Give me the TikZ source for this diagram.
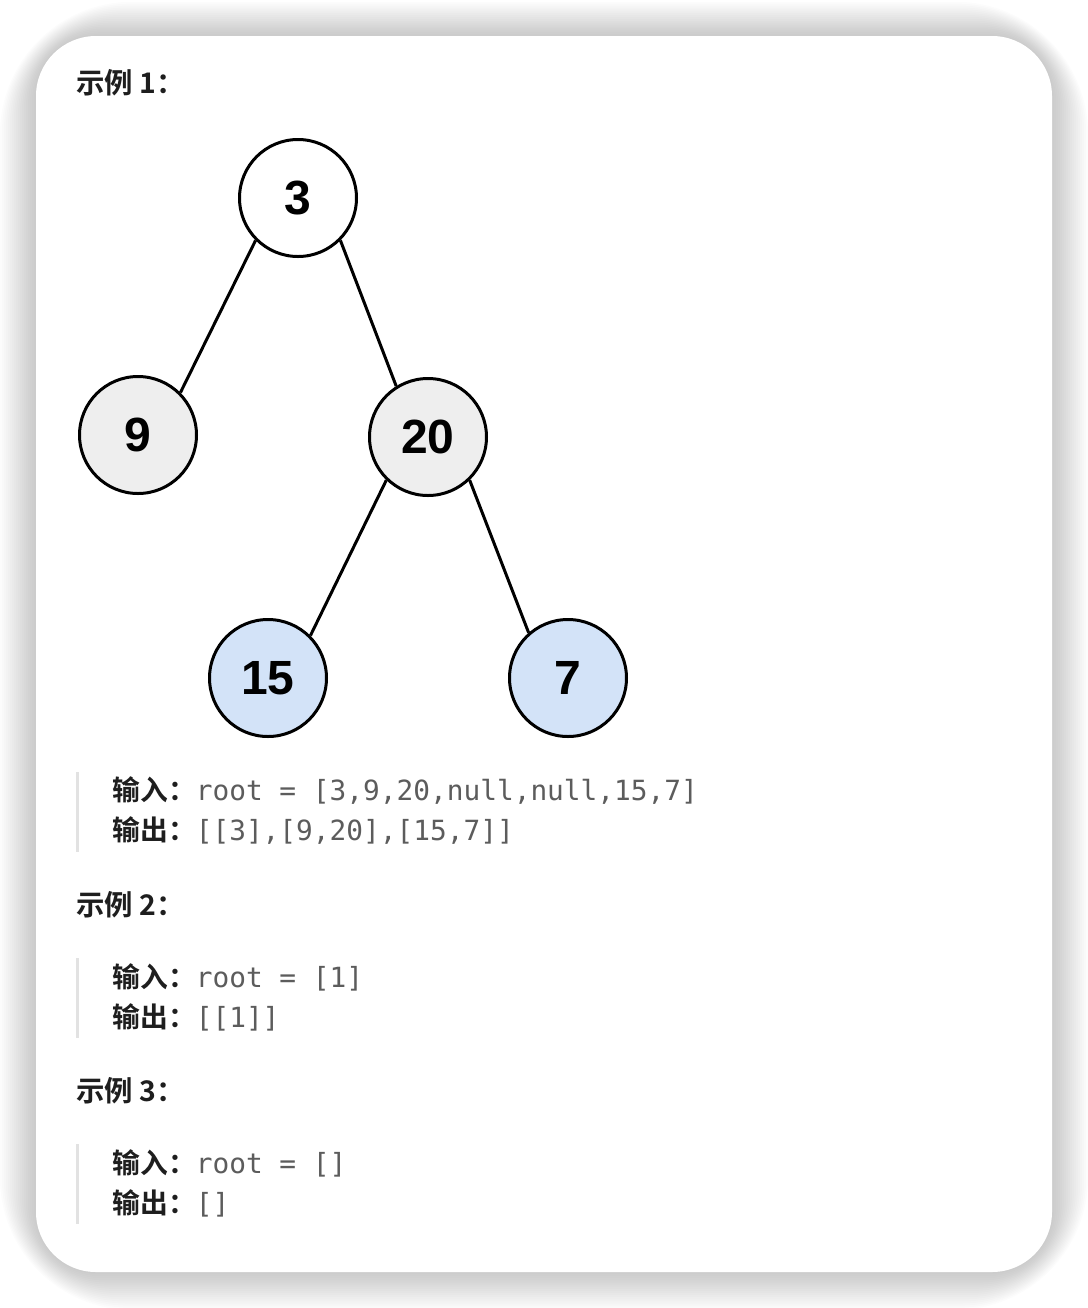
\documentclass[tikz,border=0pt]{standalone}
\usepackage{fontspec}
\usepackage{xcolor}
\usepackage{tikz}
\usetikzlibrary{positioning}
\newfontfamily\cjk{Noto Sans CJK SC}[BoldFont={Noto Sans CJK SC Bold}]
\newfontfamily\codefont{DejaVu Sans Mono}
\newfontfamily\digitfont{Liberation Sans}
\definecolor{cardgray}{HTML}{EEEEEE}
\definecolor{leafblue}{HTML}{D3E3F8}
\definecolor{codegray}{HTML}{5C5C5C}
\definecolor{quotebar}{HTML}{E2E2E2}
\definecolor{titleblack}{HTML}{1E1E1E}

\begin{document}
\begin{tikzpicture}[
  x=0.5pt,y=-0.5pt,
  treenode/.style={circle,draw=black,line width=1.5pt,minimum size=58.5pt,inner sep=0pt,
                   font=\digitfont\bfseries\fontsize{24}{24}\selectfont},
  inner/.style={treenode,fill=cardgray},
  leaf/.style={treenode,fill=leafblue},
  edge/.style={line width=1.5pt},
  title/.style={anchor=west,inner sep=0pt,text=titleblack,font=\cjk\bfseries\fontsize{14.2}{16}\selectfont},
  codeline/.style={anchor=west,inner sep=0pt,text=codegray,font=\codefont\fontsize{13.9}{16}\selectfont},
  bar/.style={fill=quotebar,draw=none}
]
  \useasboundingbox (0,0) rectangle (1088,1308);
  % shadow of the card
  \foreach \i in {1,...,18}
    \fill[black,opacity=0.011,rounded corners=30+\i*2]
      (36-\i*2,36-\i*1.9) rectangle (1052+\i*2,1272+\i*2.1);
  \fill[white,rounded corners=30] (36,36) rectangle (1052,1272);

  % example 1
  \node[title] (ex1) at (76,83) {示例 1：};
  \node[treenode,fill=white] (n3) at (298,198) {3};
  \node[inner] (n9) at (138,435) {9};
  \node[inner] (n20) at (428,437) {20};
  \node[leaf] (n15) at (268,678) {15};
  \node[leaf] (n7) at (568,678) {7};
  \draw[edge] (n3.-135) -- (n9.45);
  \draw[edge] (n3.-45) -- (n20.122);
  \draw[edge] (n20.-134) -- (n15.45);
  \draw[edge] (n20.-46) -- (n7.131);

  \fill[bar] (76,772) rectangle (79,852);
  \node[codeline] (in1) at (112,791) {{\cjk\bfseries\color{titleblack}输入：}root = [3,9,20,null,null,15,7]};
  \node[codeline] (out1) at (112,831) {{\cjk\bfseries\color{titleblack}输出：}[[3],[9,20],[15,7]]};

  % example 2
  \node[title] (ex2) at (76,905) {示例 2：};
  \fill[bar] (76,958) rectangle (79,1038);
  \node[codeline] (in2) at (112,977) {{\cjk\bfseries\color{titleblack}输入：}root = [1]};
  \node[codeline] (out2) at (112,1017) {{\cjk\bfseries\color{titleblack}输出：}[[1]]};

  % example 3
  \node[title] (ex3) at (76,1091) {示例 3：};
  \fill[bar] (76,1144) rectangle (79,1224);
  \node[codeline] (in3) at (112,1163) {{\cjk\bfseries\color{titleblack}输入：}root = []};
  \node[codeline] (out3) at (112,1203) {{\cjk\bfseries\color{titleblack}输出：}[]};
\end{tikzpicture}
\end{document}
